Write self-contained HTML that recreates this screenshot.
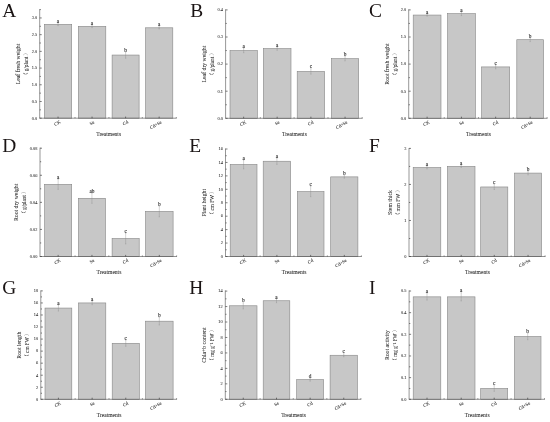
<!DOCTYPE html>
<html><head><meta charset="utf-8"><title>Figure</title>
<style>
html,body{margin:0;padding:0;background:#fff;}
svg{display:block;font-family:"Liberation Serif","Noto Serif CJK SC",serif;fill:#2a2a2a;}
text{stroke:#2a2a2a;stroke-width:0.05px;}
text.b{stroke-width:0.1px;}
text.L{stroke:none;}
</style></head><body>
<svg width="550" height="422" viewBox="0 0 550 422">
<rect width="550" height="422" fill="#fff"/>
<rect x="44.40" y="24.30" width="27.30" height="93.90" fill="#c7c7c7" stroke="#858585" stroke-width="0.6"/>
<path d="M58.05 22.96V25.64M57.45 22.96h1.2M57.45 25.64h1.2" stroke="#858585" stroke-width="0.35" fill="none"/>
<text class="b" x="58.05" y="22.66" font-size="5.3" text-anchor="middle">a</text>
<rect x="78.30" y="26.30" width="27.50" height="91.90" fill="#c7c7c7" stroke="#858585" stroke-width="0.6"/>
<path d="M92.05 24.97V27.64M91.45 24.97h1.2M91.45 27.64h1.2" stroke="#858585" stroke-width="0.35" fill="none"/>
<text class="b" x="92.05" y="24.67" font-size="5.3" text-anchor="middle">a</text>
<rect x="112.10" y="55.04" width="27.00" height="63.16" fill="#c7c7c7" stroke="#858585" stroke-width="0.6"/>
<path d="M125.60 51.87V58.22M125.00 51.87h1.2M125.00 58.22h1.2" stroke="#858585" stroke-width="0.35" fill="none"/>
<text class="b" x="125.60" y="51.57" font-size="5.3" text-anchor="middle">b</text>
<rect x="145.50" y="27.81" width="27.30" height="90.39" fill="#c7c7c7" stroke="#858585" stroke-width="0.6"/>
<path d="M159.15 26.64V28.98M158.55 26.64h1.2M158.55 28.98h1.2" stroke="#858585" stroke-width="0.35" fill="none"/>
<text class="b" x="159.15" y="26.34" font-size="5.3" text-anchor="middle">a</text>
<path d="M39.70 9.20V118.20" stroke="#505050" stroke-width="0.6" fill="none"/>
<path d="M39.40 118.20H176.60" stroke="#4a4a4a" stroke-width="0.6" fill="none"/>
<text x="37.10" y="119.50" font-size="4.35" text-anchor="end">0.0</text>
<text x="37.10" y="102.79" font-size="4.35" text-anchor="end">0.5</text>
<text x="37.10" y="86.08" font-size="4.35" text-anchor="end">1.0</text>
<text x="37.10" y="69.38" font-size="4.35" text-anchor="end">1.5</text>
<text x="37.10" y="52.67" font-size="4.35" text-anchor="end">2.0</text>
<text x="37.10" y="35.96" font-size="4.35" text-anchor="end">2.5</text>
<text x="37.10" y="19.25" font-size="4.35" text-anchor="end">3.0</text>
<text transform="translate(60.85 122.90) rotate(-30)" font-size="4.6" text-anchor="end">CK</text>
<text transform="translate(94.85 122.90) rotate(-30)" font-size="4.6" text-anchor="end">Se</text>
<text transform="translate(128.40 122.90) rotate(-30)" font-size="4.6" text-anchor="end">Cd</text>
<text transform="translate(161.95 122.90) rotate(-30)" font-size="4.6" text-anchor="end">Cd+Se</text>
<path d="M39.70 118.20h2M39.70 109.85h1.2M39.70 101.49h2M39.70 93.14h1.2M39.70 84.78h2M39.70 76.43h1.2M39.70 68.08h2M39.70 59.72h1.2M39.70 51.37h2M39.70 43.01h1.2M39.70 34.66h2M39.70 26.30h1.2M39.70 17.95h2M39.70 9.60h1.2M58.05 118.20v-1.6M92.05 118.20v-1.6M125.60 118.20v-1.6M159.15 118.20v-1.6M176.30 118.20v-1M42.35 118.20v-0M75.00 118.20v-1M108.95 118.20v-1M142.30 118.20v-1" stroke="#383838" stroke-width="0.65" fill="none"/>
<text x="108.70" y="135.90" font-size="5.55" text-anchor="middle">Treatments</text>
<text transform="translate(19.90 64.00) rotate(-90)" font-size="5.75" text-anchor="middle">Leaf fresh weight</text>
<text transform="translate(28.00 64.00) rotate(-90)" font-size="5.25" text-anchor="middle">（ g/plant ）</text>
<text class="L" x="2.30" y="16.60" font-size="19.4" fill="#1a1414">A</text>
<rect x="230.00" y="50.55" width="27.30" height="67.75" fill="#c7c7c7" stroke="#858585" stroke-width="0.6"/>
<path d="M243.65 48.38V52.72M243.05 48.38h1.2M243.05 52.72h1.2" stroke="#858585" stroke-width="0.35" fill="none"/>
<text class="b" x="243.65" y="48.08" font-size="5.3" text-anchor="middle">a</text>
<rect x="263.30" y="48.65" width="27.70" height="69.65" fill="#c7c7c7" stroke="#858585" stroke-width="0.6"/>
<path d="M277.15 47.03V50.28M276.55 47.03h1.2M276.55 50.28h1.2" stroke="#858585" stroke-width="0.35" fill="none"/>
<text class="b" x="277.15" y="46.73" font-size="5.3" text-anchor="middle">a</text>
<rect x="297.20" y="71.42" width="27.40" height="46.88" fill="#c7c7c7" stroke="#858585" stroke-width="0.6"/>
<path d="M310.90 68.71V74.13M310.30 68.71h1.2M310.30 74.13h1.2" stroke="#858585" stroke-width="0.35" fill="none"/>
<text class="b" x="310.90" y="68.41" font-size="5.3" text-anchor="middle">c</text>
<rect x="331.40" y="58.68" width="27.30" height="59.62" fill="#c7c7c7" stroke="#858585" stroke-width="0.6"/>
<path d="M345.05 56.51V60.85M344.45 56.51h1.2M344.45 60.85h1.2" stroke="#858585" stroke-width="0.35" fill="none"/>
<text class="b" x="345.05" y="56.21" font-size="5.3" text-anchor="middle">b</text>
<path d="M225.60 9.30V118.30" stroke="#505050" stroke-width="0.6" fill="none"/>
<path d="M225.30 118.30H362.50" stroke="#4a4a4a" stroke-width="0.6" fill="none"/>
<text x="223.00" y="119.60" font-size="4.35" text-anchor="end">0.0</text>
<text x="223.00" y="92.50" font-size="4.35" text-anchor="end">0.1</text>
<text x="223.00" y="65.40" font-size="4.35" text-anchor="end">0.2</text>
<text x="223.00" y="38.30" font-size="4.35" text-anchor="end">0.3</text>
<text x="223.00" y="11.20" font-size="4.35" text-anchor="end">0.4</text>
<text transform="translate(246.45 123.00) rotate(-30)" font-size="4.6" text-anchor="end">CK</text>
<text transform="translate(279.95 123.00) rotate(-30)" font-size="4.6" text-anchor="end">Se</text>
<text transform="translate(313.70 123.00) rotate(-30)" font-size="4.6" text-anchor="end">Cd</text>
<text transform="translate(347.85 123.00) rotate(-30)" font-size="4.6" text-anchor="end">Cd+Se</text>
<path d="M225.60 118.30h2M225.60 104.75h1.2M225.60 91.20h2M225.60 77.65h1.2M225.60 64.10h2M225.60 50.55h1.2M225.60 37.00h2M225.60 23.45h1.2M225.60 9.90h2M243.65 118.30v-1.6M277.15 118.30v-1.6M310.90 118.30v-1.6M345.05 118.30v-1.6M362.20 118.30v-1M228.10 118.30v-0M260.30 118.30v-1M294.10 118.30v-1M328.00 118.30v-1" stroke="#383838" stroke-width="0.65" fill="none"/>
<text x="294.45" y="136.00" font-size="5.55" text-anchor="middle">Treatments</text>
<text transform="translate(205.80 64.10) rotate(-90)" font-size="5.75" text-anchor="middle">Leaf dry weight</text>
<text transform="translate(213.90 64.10) rotate(-90)" font-size="5.25" text-anchor="middle">（ g/plant ）</text>
<text class="L" x="190.20" y="16.50" font-size="19.4" fill="#1a1414">B</text>
<rect x="413.20" y="15.05" width="27.80" height="103.25" fill="#c7c7c7" stroke="#858585" stroke-width="0.6"/>
<path d="M427.10 13.97V16.13M426.50 13.97h1.2M426.50 16.13h1.2" stroke="#858585" stroke-width="0.35" fill="none"/>
<text class="b" x="427.10" y="13.67" font-size="5.3" text-anchor="middle">a</text>
<rect x="447.50" y="13.69" width="27.90" height="104.61" fill="#c7c7c7" stroke="#858585" stroke-width="0.6"/>
<path d="M461.45 11.80V15.59M460.85 11.80h1.2M460.85 15.59h1.2" stroke="#858585" stroke-width="0.35" fill="none"/>
<text class="b" x="461.45" y="11.50" font-size="5.3" text-anchor="middle">a</text>
<rect x="481.60" y="66.92" width="28.10" height="51.38" fill="#c7c7c7" stroke="#858585" stroke-width="0.6"/>
<path d="M495.65 65.02V68.82M495.05 65.02h1.2M495.05 68.82h1.2" stroke="#858585" stroke-width="0.35" fill="none"/>
<text class="b" x="495.65" y="64.72" font-size="5.3" text-anchor="middle">c</text>
<rect x="516.80" y="39.71" width="26.80" height="78.59" fill="#c7c7c7" stroke="#858585" stroke-width="0.6"/>
<path d="M530.20 37.81V41.61M529.60 37.81h1.2M529.60 41.61h1.2" stroke="#858585" stroke-width="0.35" fill="none"/>
<text class="b" x="530.20" y="37.51" font-size="5.3" text-anchor="middle">b</text>
<path d="M408.70 9.30V118.30" stroke="#505050" stroke-width="0.6" fill="none"/>
<path d="M408.40 118.30H547.40" stroke="#4a4a4a" stroke-width="0.6" fill="none"/>
<text x="406.10" y="119.60" font-size="4.35" text-anchor="end">0.0</text>
<text x="406.10" y="92.50" font-size="4.35" text-anchor="end">0.5</text>
<text x="406.10" y="65.40" font-size="4.35" text-anchor="end">1.0</text>
<text x="406.10" y="38.30" font-size="4.35" text-anchor="end">1.5</text>
<text x="406.10" y="11.20" font-size="4.35" text-anchor="end">2.0</text>
<text transform="translate(429.90 123.00) rotate(-30)" font-size="4.6" text-anchor="end">CK</text>
<text transform="translate(464.25 123.00) rotate(-30)" font-size="4.6" text-anchor="end">Se</text>
<text transform="translate(498.45 123.00) rotate(-30)" font-size="4.6" text-anchor="end">Cd</text>
<text transform="translate(533.00 123.00) rotate(-30)" font-size="4.6" text-anchor="end">Cd+Se</text>
<path d="M408.70 118.30h2M408.70 104.75h1.2M408.70 91.20h2M408.70 77.65h1.2M408.70 64.10h2M408.70 50.55h1.2M408.70 37.00h2M408.70 23.45h1.2M408.70 9.90h2M427.10 118.30v-1.6M461.45 118.30v-1.6M495.65 118.30v-1.6M530.20 118.30v-1.6M547.10 118.30v-1M411.25 118.30v-0M444.25 118.30v-1M478.50 118.30v-1M513.25 118.30v-1" stroke="#383838" stroke-width="0.65" fill="none"/>
<text x="478.50" y="136.00" font-size="5.55" text-anchor="middle">Treatments</text>
<text transform="translate(388.50 64.10) rotate(-90)" font-size="5.75" text-anchor="middle">Root fresh weight</text>
<text transform="translate(396.60 64.10) rotate(-90)" font-size="5.25" text-anchor="middle">（ g/plant ）</text>
<text class="L" x="369.00" y="16.60" font-size="19.4" fill="#1a1414">C</text>
<rect x="44.60" y="184.35" width="27.10" height="72.15" fill="#c7c7c7" stroke="#858585" stroke-width="0.6"/>
<path d="M58.15 179.34V189.35M57.55 179.34h1.2M57.55 189.35h1.2" stroke="#858585" stroke-width="0.35" fill="none"/>
<text class="b" x="58.15" y="179.04" font-size="5.3" text-anchor="middle">a</text>
<rect x="78.40" y="198.29" width="27.10" height="58.21" fill="#c7c7c7" stroke="#858585" stroke-width="0.6"/>
<path d="M91.95 193.28V203.30M91.35 193.28h1.2M91.35 203.30h1.2" stroke="#858585" stroke-width="0.35" fill="none"/>
<text class="b" x="91.95" y="192.98" font-size="5.3" text-anchor="middle">ab</text>
<rect x="112.10" y="238.50" width="27.10" height="18.00" fill="#c7c7c7" stroke="#858585" stroke-width="0.6"/>
<path d="M125.65 233.08V243.91M125.05 233.08h1.2M125.05 243.91h1.2" stroke="#858585" stroke-width="0.35" fill="none"/>
<text class="b" x="125.65" y="232.78" font-size="5.3" text-anchor="middle">c</text>
<rect x="145.50" y="211.42" width="27.60" height="45.08" fill="#c7c7c7" stroke="#858585" stroke-width="0.6"/>
<path d="M159.30 206.01V216.84M158.70 206.01h1.2M158.70 216.84h1.2" stroke="#858585" stroke-width="0.35" fill="none"/>
<text class="b" x="159.30" y="205.71" font-size="5.3" text-anchor="middle">b</text>
<path d="M40.00 147.60V256.50" stroke="#505050" stroke-width="0.6" fill="none"/>
<path d="M39.70 256.50H176.90" stroke="#4a4a4a" stroke-width="0.6" fill="none"/>
<text x="37.40" y="257.80" font-size="4.35" text-anchor="end">0.00</text>
<text x="37.40" y="230.72" font-size="4.35" text-anchor="end">0.02</text>
<text x="37.40" y="203.65" font-size="4.35" text-anchor="end">0.04</text>
<text x="37.40" y="176.57" font-size="4.35" text-anchor="end">0.06</text>
<text x="37.40" y="149.50" font-size="4.35" text-anchor="end">0.08</text>
<text transform="translate(60.95 261.20) rotate(-30)" font-size="4.6" text-anchor="end">CK</text>
<text transform="translate(94.75 261.20) rotate(-30)" font-size="4.6" text-anchor="end">Se</text>
<text transform="translate(128.45 261.20) rotate(-30)" font-size="4.6" text-anchor="end">Cd</text>
<text transform="translate(162.10 261.20) rotate(-30)" font-size="4.6" text-anchor="end">Cd+Se</text>
<path d="M40.00 256.50h2M40.00 242.96h1.2M40.00 229.42h2M40.00 215.89h1.2M40.00 202.35h2M40.00 188.81h1.2M40.00 175.27h2M40.00 161.74h1.2M40.00 148.20h2M58.15 256.50v-1.6M91.95 256.50v-1.6M125.65 256.50v-1.6M159.30 256.50v-1.6M176.60 256.50v-1M42.60 256.50v-0M75.05 256.50v-1M108.80 256.50v-1M142.35 256.50v-1" stroke="#383838" stroke-width="0.65" fill="none"/>
<text x="108.95" y="274.20" font-size="5.55" text-anchor="middle">Treatments</text>
<text transform="translate(17.50 202.35) rotate(-90)" font-size="5.75" text-anchor="middle">Root dry weight</text>
<text transform="translate(25.60 202.35) rotate(-90)" font-size="5.25" text-anchor="middle">（ g/plant ）</text>
<text class="L" x="2.30" y="151.70" font-size="19.4" fill="#1a1414">D</text>
<rect x="230.20" y="164.45" width="26.80" height="92.05" fill="#c7c7c7" stroke="#858585" stroke-width="0.6"/>
<path d="M243.60 160.02V168.89M243.00 160.02h1.2M243.00 168.89h1.2" stroke="#858585" stroke-width="0.35" fill="none"/>
<text class="b" x="243.60" y="159.72" font-size="5.3" text-anchor="middle">a</text>
<rect x="263.20" y="161.23" width="27.40" height="95.27" fill="#c7c7c7" stroke="#858585" stroke-width="0.6"/>
<path d="M276.90 158.07V164.39M276.30 158.07h1.2M276.30 164.39h1.2" stroke="#858585" stroke-width="0.35" fill="none"/>
<text class="b" x="276.90" y="157.77" font-size="5.3" text-anchor="middle">a</text>
<rect x="297.30" y="191.60" width="26.70" height="64.90" fill="#c7c7c7" stroke="#858585" stroke-width="0.6"/>
<path d="M310.65 186.49V196.70M310.05 186.49h1.2M310.05 196.70h1.2" stroke="#858585" stroke-width="0.35" fill="none"/>
<text class="b" x="310.65" y="186.19" font-size="5.3" text-anchor="middle">c</text>
<rect x="330.70" y="176.88" width="27.20" height="79.62" fill="#c7c7c7" stroke="#858585" stroke-width="0.6"/>
<path d="M344.30 175.54V178.23M343.70 175.54h1.2M343.70 178.23h1.2" stroke="#858585" stroke-width="0.35" fill="none"/>
<text class="b" x="344.30" y="175.24" font-size="5.3" text-anchor="middle">b</text>
<path d="M225.50 148.50V256.50" stroke="#505050" stroke-width="0.6" fill="none"/>
<path d="M225.20 256.50H361.70" stroke="#4a4a4a" stroke-width="0.6" fill="none"/>
<text x="222.90" y="257.80" font-size="4.35" text-anchor="end">0</text>
<text x="222.90" y="244.36" font-size="4.35" text-anchor="end">2</text>
<text x="222.90" y="230.93" font-size="4.35" text-anchor="end">4</text>
<text x="222.90" y="217.49" font-size="4.35" text-anchor="end">6</text>
<text x="222.90" y="204.05" font-size="4.35" text-anchor="end">8</text>
<text x="222.90" y="190.61" font-size="4.35" text-anchor="end">10</text>
<text x="222.90" y="177.18" font-size="4.35" text-anchor="end">12</text>
<text x="222.90" y="163.74" font-size="4.35" text-anchor="end">14</text>
<text x="222.90" y="150.30" font-size="4.35" text-anchor="end">16</text>
<text transform="translate(246.40 261.20) rotate(-30)" font-size="4.6" text-anchor="end">CK</text>
<text transform="translate(279.70 261.20) rotate(-30)" font-size="4.6" text-anchor="end">Se</text>
<text transform="translate(313.45 261.20) rotate(-30)" font-size="4.6" text-anchor="end">Cd</text>
<text transform="translate(347.10 261.20) rotate(-30)" font-size="4.6" text-anchor="end">Cd+Se</text>
<path d="M225.50 256.50h2M225.50 249.78h1.2M225.50 243.06h2M225.50 236.34h1.2M225.50 229.62h2M225.50 222.91h1.2M225.50 216.19h2M225.50 209.47h1.2M225.50 202.75h2M225.50 196.03h1.2M225.50 189.31h2M225.50 182.59h1.2M225.50 175.88h2M225.50 169.16h1.2M225.50 162.44h2M225.50 155.72h1.2M225.50 149.00h2M243.60 256.50v-1.6M276.90 256.50v-1.6M310.65 256.50v-1.6M344.30 256.50v-1.6M361.40 256.50v-1M228.15 256.50v-0M260.10 256.50v-1M293.95 256.50v-1M327.35 256.50v-1" stroke="#383838" stroke-width="0.65" fill="none"/>
<text x="294.15" y="274.20" font-size="5.55" text-anchor="middle">Treatments</text>
<text transform="translate(205.50 202.80) rotate(-90)" font-size="5.75" text-anchor="middle">Plant height</text>
<text transform="translate(213.60 202.80) rotate(-90)" font-size="5.25" text-anchor="middle">（ cm FW ）</text>
<text class="L" x="189.30" y="151.70" font-size="19.4" fill="#1a1414">E</text>
<rect x="413.20" y="167.50" width="27.60" height="89.00" fill="#c7c7c7" stroke="#858585" stroke-width="0.6"/>
<path d="M427.00 166.06V168.94M426.40 166.06h1.2M426.40 168.94h1.2" stroke="#858585" stroke-width="0.35" fill="none"/>
<text class="b" x="427.00" y="165.76" font-size="5.3" text-anchor="middle">a</text>
<rect x="447.40" y="166.42" width="27.60" height="90.08" fill="#c7c7c7" stroke="#858585" stroke-width="0.6"/>
<path d="M461.20 165.34V167.50M460.60 165.34h1.2M460.60 167.50h1.2" stroke="#858585" stroke-width="0.35" fill="none"/>
<text class="b" x="461.20" y="165.04" font-size="5.3" text-anchor="middle">a</text>
<rect x="480.70" y="186.96" width="27.10" height="69.54" fill="#c7c7c7" stroke="#858585" stroke-width="0.6"/>
<path d="M494.25 184.43V189.48M493.65 184.43h1.2M493.65 189.48h1.2" stroke="#858585" stroke-width="0.35" fill="none"/>
<text class="b" x="494.25" y="184.13" font-size="5.3" text-anchor="middle">c</text>
<rect x="514.50" y="173.08" width="27.10" height="83.42" fill="#c7c7c7" stroke="#858585" stroke-width="0.6"/>
<path d="M528.05 171.28V174.88M527.45 171.28h1.2M527.45 174.88h1.2" stroke="#858585" stroke-width="0.35" fill="none"/>
<text class="b" x="528.05" y="170.98" font-size="5.3" text-anchor="middle">b</text>
<path d="M409.00 148.00V256.50" stroke="#505050" stroke-width="0.6" fill="none"/>
<path d="M408.70 256.50H545.40" stroke="#4a4a4a" stroke-width="0.6" fill="none"/>
<text x="406.40" y="257.80" font-size="4.35" text-anchor="end">0</text>
<text x="406.40" y="221.77" font-size="4.35" text-anchor="end">1</text>
<text x="406.40" y="185.73" font-size="4.35" text-anchor="end">2</text>
<text x="406.40" y="149.70" font-size="4.35" text-anchor="end">3</text>
<text transform="translate(429.80 261.20) rotate(-30)" font-size="4.6" text-anchor="end">CK</text>
<text transform="translate(464.00 261.20) rotate(-30)" font-size="4.6" text-anchor="end">Se</text>
<text transform="translate(497.05 261.20) rotate(-30)" font-size="4.6" text-anchor="end">Cd</text>
<text transform="translate(530.85 261.20) rotate(-30)" font-size="4.6" text-anchor="end">Cd+Se</text>
<path d="M409.00 256.50h2M409.00 238.48h1.2M409.00 220.47h2M409.00 202.45h1.2M409.00 184.43h2M409.00 166.42h1.2M409.00 148.40h2M427.00 256.50v-1.6M461.20 256.50v-1.6M494.25 256.50v-1.6M528.05 256.50v-1.6M545.10 256.50v-1M411.40 256.50v-0M444.10 256.50v-1M477.85 256.50v-1M511.15 256.50v-1" stroke="#383838" stroke-width="0.65" fill="none"/>
<text x="477.50" y="274.20" font-size="5.55" text-anchor="middle">Treatments</text>
<text transform="translate(391.60 202.55) rotate(-90)" font-size="5.75" text-anchor="middle">Stem thick</text>
<text transform="translate(399.70 202.55) rotate(-90)" font-size="5.25" text-anchor="middle">（ mm FW ）</text>
<text class="L" x="369.00" y="151.70" font-size="19.4" fill="#1a1414">F</text>
<rect x="45.00" y="308.06" width="26.80" height="91.24" fill="#c7c7c7" stroke="#858585" stroke-width="0.6"/>
<path d="M58.40 305.05V311.07M57.80 305.05h1.2M57.80 311.07h1.2" stroke="#858585" stroke-width="0.35" fill="none"/>
<text class="b" x="58.40" y="304.75" font-size="5.3" text-anchor="middle">a</text>
<rect x="78.50" y="302.94" width="27.30" height="96.36" fill="#c7c7c7" stroke="#858585" stroke-width="0.6"/>
<path d="M92.15 301.14V304.75M91.55 301.14h1.2M91.55 304.75h1.2" stroke="#858585" stroke-width="0.35" fill="none"/>
<text class="b" x="92.15" y="300.84" font-size="5.3" text-anchor="middle">a</text>
<rect x="112.20" y="343.29" width="27.10" height="56.01" fill="#c7c7c7" stroke="#858585" stroke-width="0.6"/>
<path d="M125.75 340.28V346.30M125.15 340.28h1.2M125.15 346.30h1.2" stroke="#858585" stroke-width="0.35" fill="none"/>
<text class="b" x="125.75" y="339.98" font-size="5.3" text-anchor="middle">c</text>
<rect x="145.50" y="321.19" width="27.60" height="78.11" fill="#c7c7c7" stroke="#858585" stroke-width="0.6"/>
<path d="M159.30 317.40V324.99M158.70 317.40h1.2M158.70 324.99h1.2" stroke="#858585" stroke-width="0.35" fill="none"/>
<text class="b" x="159.30" y="317.10" font-size="5.3" text-anchor="middle">b</text>
<path d="M40.80 290.40V399.30" stroke="#505050" stroke-width="0.6" fill="none"/>
<path d="M40.50 399.30H176.90" stroke="#4a4a4a" stroke-width="0.6" fill="none"/>
<text x="38.20" y="400.60" font-size="4.35" text-anchor="end">0</text>
<text x="38.20" y="388.56" font-size="4.35" text-anchor="end">2</text>
<text x="38.20" y="376.51" font-size="4.35" text-anchor="end">4</text>
<text x="38.20" y="364.47" font-size="4.35" text-anchor="end">6</text>
<text x="38.20" y="352.42" font-size="4.35" text-anchor="end">8</text>
<text x="38.20" y="340.38" font-size="4.35" text-anchor="end">10</text>
<text x="38.20" y="328.33" font-size="4.35" text-anchor="end">12</text>
<text x="38.20" y="316.29" font-size="4.35" text-anchor="end">14</text>
<text x="38.20" y="304.24" font-size="4.35" text-anchor="end">16</text>
<text x="38.20" y="292.20" font-size="4.35" text-anchor="end">18</text>
<text transform="translate(61.20 404.00) rotate(-30)" font-size="4.6" text-anchor="end">CK</text>
<text transform="translate(94.95 404.00) rotate(-30)" font-size="4.6" text-anchor="end">Se</text>
<text transform="translate(128.55 404.00) rotate(-30)" font-size="4.6" text-anchor="end">Cd</text>
<text transform="translate(162.10 404.00) rotate(-30)" font-size="4.6" text-anchor="end">Cd+Se</text>
<path d="M40.80 399.30h2M40.80 393.28h1.2M40.80 387.26h2M40.80 381.23h1.2M40.80 375.21h2M40.80 369.19h1.2M40.80 363.17h2M40.80 357.14h1.2M40.80 351.12h2M40.80 345.10h1.2M40.80 339.08h2M40.80 333.06h1.2M40.80 327.03h2M40.80 321.01h1.2M40.80 314.99h2M40.80 308.97h1.2M40.80 302.94h2M40.80 296.92h1.2M40.80 290.90h2M58.40 399.30v-1.6M92.15 399.30v-1.6M125.75 399.30v-1.6M159.30 399.30v-1.6M176.60 399.30v-1M43.20 399.30v-0M75.15 399.30v-1M109.00 399.30v-1M142.40 399.30v-1" stroke="#383838" stroke-width="0.65" fill="none"/>
<text x="109.15" y="417.00" font-size="5.55" text-anchor="middle">Treatments</text>
<text transform="translate(20.80 345.15) rotate(-90)" font-size="5.75" text-anchor="middle">Root length</text>
<text transform="translate(28.90 345.15) rotate(-90)" font-size="5.25" text-anchor="middle">（ cm FW ）</text>
<text class="L" x="2.30" y="293.60" font-size="19.4" fill="#1a1414">G</text>
<rect x="229.50" y="305.78" width="27.50" height="93.52" fill="#c7c7c7" stroke="#858585" stroke-width="0.6"/>
<path d="M243.25 302.69V308.88M242.65 302.69h1.2M242.65 308.88h1.2" stroke="#858585" stroke-width="0.35" fill="none"/>
<text class="b" x="243.25" y="302.39" font-size="5.3" text-anchor="middle">b</text>
<rect x="263.20" y="300.76" width="26.60" height="98.54" fill="#c7c7c7" stroke="#858585" stroke-width="0.6"/>
<path d="M276.50 298.83V302.69M275.90 298.83h1.2M275.90 302.69h1.2" stroke="#858585" stroke-width="0.35" fill="none"/>
<text class="b" x="276.50" y="298.53" font-size="5.3" text-anchor="middle">a</text>
<rect x="296.70" y="379.59" width="26.90" height="19.71" fill="#c7c7c7" stroke="#858585" stroke-width="0.6"/>
<path d="M310.15 378.05V381.14M309.55 378.05h1.2M309.55 381.14h1.2" stroke="#858585" stroke-width="0.35" fill="none"/>
<text class="b" x="310.15" y="377.75" font-size="5.3" text-anchor="middle">d</text>
<rect x="330.10" y="355.25" width="27.30" height="44.05" fill="#c7c7c7" stroke="#858585" stroke-width="0.6"/>
<path d="M343.75 353.70V356.79M343.15 353.70h1.2M343.15 356.79h1.2" stroke="#858585" stroke-width="0.35" fill="none"/>
<text class="b" x="343.75" y="353.40" font-size="5.3" text-anchor="middle">c</text>
<path d="M225.30 290.40V399.30" stroke="#505050" stroke-width="0.6" fill="none"/>
<path d="M225.00 399.30H361.20" stroke="#4a4a4a" stroke-width="0.6" fill="none"/>
<text x="222.70" y="400.60" font-size="4.35" text-anchor="end">0</text>
<text x="222.70" y="385.14" font-size="4.35" text-anchor="end">2</text>
<text x="222.70" y="369.69" font-size="4.35" text-anchor="end">4</text>
<text x="222.70" y="354.23" font-size="4.35" text-anchor="end">6</text>
<text x="222.70" y="338.77" font-size="4.35" text-anchor="end">8</text>
<text x="222.70" y="323.31" font-size="4.35" text-anchor="end">10</text>
<text x="222.70" y="307.86" font-size="4.35" text-anchor="end">12</text>
<text x="222.70" y="292.40" font-size="4.35" text-anchor="end">14</text>
<text transform="translate(246.05 404.00) rotate(-30)" font-size="4.6" text-anchor="end">CK</text>
<text transform="translate(279.30 404.00) rotate(-30)" font-size="4.6" text-anchor="end">Se</text>
<text transform="translate(312.95 404.00) rotate(-30)" font-size="4.6" text-anchor="end">Cd</text>
<text transform="translate(346.55 404.00) rotate(-30)" font-size="4.6" text-anchor="end">Cd+Se</text>
<path d="M225.30 399.30h2M225.30 391.57h1.2M225.30 383.84h2M225.30 376.11h1.2M225.30 368.39h2M225.30 360.66h1.2M225.30 352.93h2M225.30 345.20h1.2M225.30 337.47h2M225.30 329.74h1.2M225.30 322.01h2M225.30 314.29h1.2M225.30 306.56h2M225.30 298.83h1.2M225.30 291.10h2M243.25 399.30v-1.6M276.50 399.30v-1.6M310.15 399.30v-1.6M343.75 399.30v-1.6M360.90 399.30v-1M227.70 399.30v-0M260.10 399.30v-1M293.25 399.30v-1M326.85 399.30v-1" stroke="#383838" stroke-width="0.65" fill="none"/>
<text x="293.55" y="417.00" font-size="5.55" text-anchor="middle">Treatments</text>
<text transform="translate(206.10 345.15) rotate(-90)" font-size="5.75" text-anchor="middle">Chla+b content</text>
<text transform="translate(214.20 345.15) rotate(-90)" font-size="5.25" text-anchor="middle">（ mg g⁻¹ FW ）</text>
<text class="L" x="189.30" y="293.60" font-size="19.4" fill="#1a1414">H</text>
<rect x="413.20" y="296.85" width="27.60" height="102.45" fill="#c7c7c7" stroke="#858585" stroke-width="0.6"/>
<path d="M427.00 293.60V300.10M426.40 293.60h1.2M426.40 300.10h1.2" stroke="#858585" stroke-width="0.35" fill="none"/>
<text class="b" x="427.00" y="293.30" font-size="5.3" text-anchor="middle">a</text>
<rect x="447.40" y="296.85" width="27.60" height="102.45" fill="#c7c7c7" stroke="#858585" stroke-width="0.6"/>
<path d="M461.20 292.73V300.96M460.60 292.73h1.2M460.60 300.96h1.2" stroke="#858585" stroke-width="0.35" fill="none"/>
<text class="b" x="461.20" y="292.43" font-size="5.3" text-anchor="middle">a</text>
<rect x="480.70" y="388.47" width="27.00" height="10.83" fill="#c7c7c7" stroke="#858585" stroke-width="0.6"/>
<path d="M494.20 385.65V391.29M493.60 385.65h1.2M493.60 391.29h1.2" stroke="#858585" stroke-width="0.35" fill="none"/>
<text class="b" x="494.20" y="385.35" font-size="5.3" text-anchor="middle">c</text>
<rect x="514.40" y="336.49" width="26.60" height="62.81" fill="#c7c7c7" stroke="#858585" stroke-width="0.6"/>
<path d="M527.70 333.24V339.74M527.10 333.24h1.2M527.10 339.74h1.2" stroke="#858585" stroke-width="0.35" fill="none"/>
<text class="b" x="527.70" y="332.94" font-size="5.3" text-anchor="middle">b</text>
<path d="M409.10 290.40V399.30" stroke="#505050" stroke-width="0.6" fill="none"/>
<path d="M408.80 399.30H544.80" stroke="#4a4a4a" stroke-width="0.6" fill="none"/>
<text x="406.50" y="400.60" font-size="4.35" text-anchor="end">0.0</text>
<text x="406.50" y="378.94" font-size="4.35" text-anchor="end">0.1</text>
<text x="406.50" y="357.28" font-size="4.35" text-anchor="end">0.2</text>
<text x="406.50" y="335.62" font-size="4.35" text-anchor="end">0.3</text>
<text x="406.50" y="313.96" font-size="4.35" text-anchor="end">0.4</text>
<text x="406.50" y="292.30" font-size="4.35" text-anchor="end">0.5</text>
<text transform="translate(429.80 404.00) rotate(-30)" font-size="4.6" text-anchor="end">CK</text>
<text transform="translate(464.00 404.00) rotate(-30)" font-size="4.6" text-anchor="end">Se</text>
<text transform="translate(497.00 404.00) rotate(-30)" font-size="4.6" text-anchor="end">Cd</text>
<text transform="translate(530.50 404.00) rotate(-30)" font-size="4.6" text-anchor="end">Cd+Se</text>
<path d="M409.10 399.30h2M409.10 388.47h1.2M409.10 377.64h2M409.10 366.81h1.2M409.10 355.98h2M409.10 345.15h1.2M409.10 334.32h2M409.10 323.49h1.2M409.10 312.66h2M409.10 301.83h1.2M409.10 291.00h2M427.00 399.30v-1.6M461.20 399.30v-1.6M494.20 399.30v-1.6M527.70 399.30v-1.6M544.50 399.30v-1M411.45 399.30v-0M444.10 399.30v-1M477.85 399.30v-1M511.05 399.30v-1" stroke="#383838" stroke-width="0.65" fill="none"/>
<text x="477.20" y="417.00" font-size="5.55" text-anchor="middle">Treatments</text>
<text transform="translate(388.50 345.15) rotate(-90)" font-size="5.75" text-anchor="middle">Root activity</text>
<text transform="translate(396.60 345.15) rotate(-90)" font-size="5.25" text-anchor="middle">（ mg g⁻¹ FW ）</text>
<text class="L" x="369.00" y="293.60" font-size="19.4" fill="#1a1414">I</text>
</svg>
</body></html>
